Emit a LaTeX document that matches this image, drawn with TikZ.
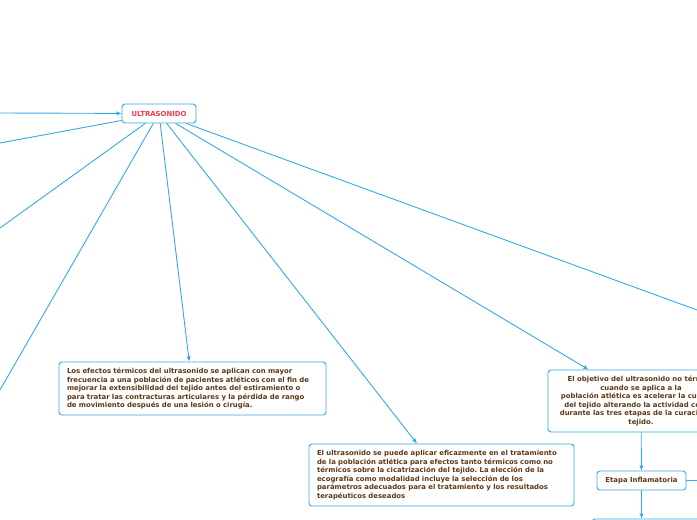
\documentclass[tikz,border=0pt]{standalone}
\usepackage{fontspec}
\setmainfont{DejaVu Sans}
\usetikzlibrary{arrows.meta}
\definecolor{linea}{RGB}{53,169,225}
\definecolor{cafe}{RGB}{95,55,20}
\definecolor{rojo}{RGB}{240,60,70}
\frenchspacing

\begin{document}
\begin{tikzpicture}[x=1pt, y=-1pt, line width=0.9pt, color=linea,
    every node/.style={draw=linea, fill=white, rounded corners=3pt, text=cafe,
      font=\fontsize{6.9}{8.5}\selectfont\bfseries},
    texto/.style={align=left, inner xsep=8pt},
    linea/.style={color=linea},
    flecha/.style={color=linea, -{Latex[length=5pt,width=4.5pt]}}]
    \clip (0,0) rectangle (697,520);

    \coordinate (izq1) at (0,113);
    \coordinate (izq2) at (0,143);
    \coordinate (izq3) at (0,228);
    \coordinate (izq4) at (0,390);
    \coordinate (der1) at (697,310);
    \coordinate (der2) at (697,480.5);

    \node[minimum width=74pt, minimum height=19pt, text=rojo] (ultra) at (159,113.5) {ULTRASONIDO};

    \node[texto, text width=251pt, minimum height=53pt] (termicos) at (192.5,388.5)
      {Los efectos térmicos del ultrasonido se aplican con mayor\\
       frecuencia a una población de pacientes atléticos con el fin de\\
       mejorar la extensibilidad del tejido antes del estiramiento o\\
       para tratar las contracturas articulares y la pérdida de rango\\
       de movimiento después de una lesión o cirugía.};

    \node[texto, text width=249pt, minimum height=62pt] (eficaz) at (441.5,475)
      {El ultrasonido se puede aplicar eficazmente en el tratamiento\\
       de la población atlética para efectos tanto térmicos como no\\
       térmicos sobre la cicatrización del tejido. La elección de la\\
       ecografía como modalidad incluye la selección de los\\
       parámetros adecuados para el tratamiento y los resultados\\
       terapéuticos deseados};

    \node[align=center, minimum width=186pt, minimum height=62pt] (objetivo) at (641,401)
      {El objetivo del ultrasonido no térmico\\
       cuando se aplica a la\\
       población atlética es acelerar la curación\\
       del tejido alterando la actividad celular\\
       durante las tres etapas de la curación del\\
       tejido.};

    \node[minimum width=89pt, minimum height=19pt] (inflamatoria) at (641.5,480.5) {Etapa Inflamatoria};
    \node[minimum width=150pt, minimum height=40pt] (siguiente) at (667,539) {};

    \draw[linea] (ultra) -- (izq2);
    \draw[linea] (ultra) -- (izq3);
    \draw[linea] (ultra) -- (izq4);
    \draw[linea] (ultra) -- (der1);
    \draw[flecha] (izq1) -- (ultra);
    \draw[flecha] (ultra) -- (termicos);
    \draw[flecha] (ultra) -- (eficaz);
    \draw[flecha] (ultra) -- (objetivo);
    \draw[flecha] (objetivo) -- (inflamatoria);
    \draw[flecha] (inflamatoria) -- (inflamatoria |- siguiente.north);
    \draw[linea] (inflamatoria) -- (der2);
\end{tikzpicture}
\end{document}
